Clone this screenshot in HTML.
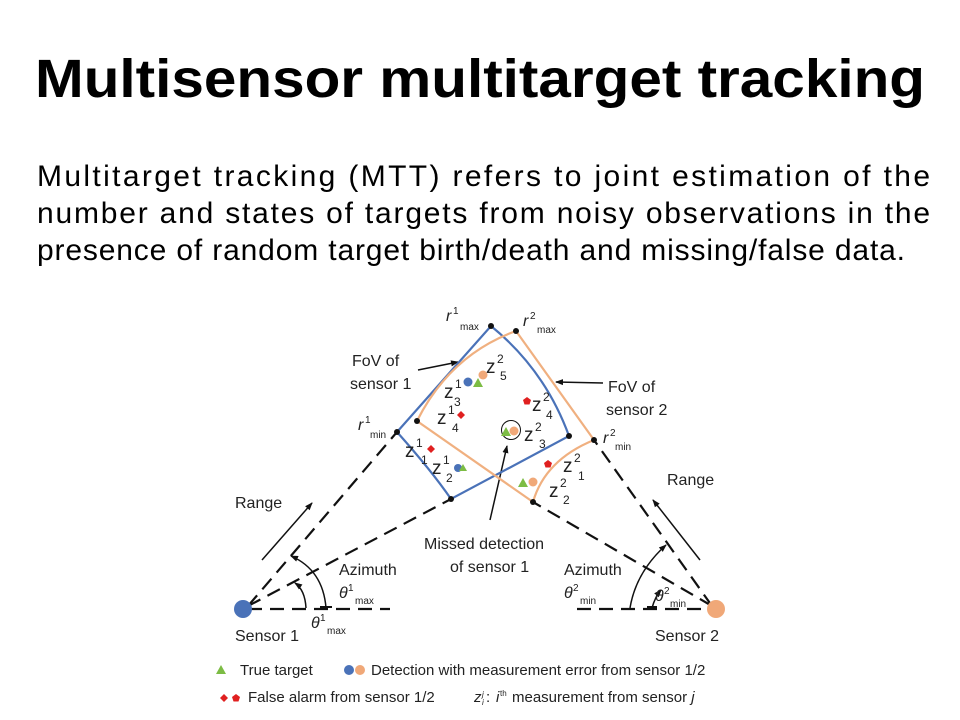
<!DOCTYPE html>
<html><head><meta charset="utf-8"><style>
body{margin:0;width:960px;height:720px;background:#fff;font-family:"Liberation Sans",sans-serif;overflow:hidden;position:relative}
svg{position:absolute;left:0;top:0}
svg text{font-family:"Liberation Sans",sans-serif;fill:#222}
</style></head><body>
<svg width="960" height="720" viewBox="0 0 960 720">
<text x="35" y="97" font-size="54" font-weight="bold" style="fill:#000" textLength="890" lengthAdjust="spacingAndGlyphs">Multisensor multitarget tracking</text>
<g font-size="30" style="fill:#000">
<text x="37" y="186" textLength="893" lengthAdjust="spacing" style="fill:#000">Multitarget tracking (MTT) refers to joint estimation of the</text>
<text x="37" y="223" textLength="893" lengthAdjust="spacing" style="fill:#000">number and states of targets from noisy observations in the</text>
<text x="37" y="260" textLength="868" lengthAdjust="spacing" style="fill:#000">presence of random target birth/death and missing/false data.</text>
</g>
<defs><marker id="ah" markerWidth="8" markerHeight="8" refX="7" refY="4" orient="auto" markerUnits="userSpaceOnUse"><path d="M0,1 L8,4 L0,7 z" fill="#111"/></marker></defs>
<g stroke="#111" stroke-width="2.2" stroke-dasharray="14,8" fill="none">
<line x1="248" y1="606" x2="397" y2="432"/>
<line x1="248" y1="606" x2="451" y2="499"/>
<line x1="248" y1="609" x2="390" y2="609"/>
<line x1="712" y1="606" x2="594" y2="440"/>
<line x1="712" y1="606" x2="533" y2="502"/>
<line x1="577" y1="609" x2="706" y2="609"/>
</g>
<g stroke="#111" stroke-width="1.5" fill="none">
<line x1="262" y1="560" x2="312" y2="503" marker-end="url(#ah)"/>
<line x1="700" y1="560" x2="653" y2="500" marker-end="url(#ah)"/>
<path d="M326,608 Q323,570 291,556" marker-end="url(#ah)"/>
<path d="M306,608 Q305,590 295,583" marker-end="url(#ah)"/>
<path d="M630,608 Q636,572 666,545" marker-end="url(#ah)"/>
<path d="M652,608 Q655,597 661,590" marker-end="url(#ah)"/>
<line x1="320" y1="607" x2="332" y2="607" stroke-width="2"/>
<line x1="647" y1="607" x2="657" y2="607" stroke-width="2"/>
<line x1="418" y1="370" x2="458" y2="362" marker-end="url(#ah)"/>
<line x1="603" y1="383" x2="556" y2="382" marker-end="url(#ah)"/>
<line x1="490" y1="520" x2="507" y2="446" marker-end="url(#ah)"/>
<circle cx="511" cy="430" r="9.5" stroke-width="1"/>
</g>
<g fill="none" stroke-width="2.2">
<path d="M397,432 L491,326 Q545,370 569,436 L451,499 Q431,470 397,432" stroke="#4a72b8"/>
<path d="M516,331 L594,440 Q545,460 533,502 L417,421 Q450,355 516,331" stroke="#f0b080"/>
</g>
<g fill="#111">
<circle cx="491" cy="326" r="3"/><circle cx="397" cy="432" r="3"/><circle cx="451" cy="499" r="3"/><circle cx="569" cy="436" r="3"/>
<circle cx="516" cy="331" r="3"/><circle cx="594" cy="440" r="3"/><circle cx="533" cy="502" r="3"/><circle cx="417" cy="421" r="3"/>
</g>
<circle cx="243" cy="609" r="9" fill="#4a72b8"/>
<circle cx="716" cy="609" r="9" fill="#f0a878"/>
<g fill="#4a72b8"><circle cx="468" cy="382" r="4.5"/><circle cx="458" cy="468" r="4"/></g>
<g fill="#f0a878"><circle cx="483" cy="375" r="4.5"/><circle cx="514" cy="431" r="4.5"/><circle cx="533" cy="482" r="4.5"/></g>
<g fill="#7cbc44"><path d="M478,378 l5,9 h-10z"/><path d="M463,464 l4,7 h-8z"/><path d="M506,427 l5,9 h-10z"/><path d="M523,478 l5,9 h-10z"/><path d="M221,665 l5,9 h-10z"/></g>
<g fill="#e02020"><path d="M461,411 l4,4 -4,4 -4,-4z"/><path d="M431,445 l4,4 -4,4 -4,-4z"/><path d="M527,397 l4,3 -1.5,4.5 h-5 l-1.5,-4.5z"/><path d="M548,460 l4,3 -1.5,4.5 h-5 l-1.5,-4.5z"/><path d="M224,694 l4,4 -4,4 -4,-4z"/><path d="M236,694 l4,3 -1.5,4.5 h-5 l-1.5,-4.5z"/></g>
<g fill="#4a72b8"><circle cx="349" cy="670" r="5"/></g><circle cx="360" cy="670" r="5" fill="#f0a878"/>
<g font-size="16">
<text x="446" y="321" font-style="italic">r</text><text x="453" y="314" font-size="10">1</text><text x="460" y="330" font-size="10">max</text>
<text x="523" y="326" font-style="italic">r</text><text x="530" y="319" font-size="10">2</text><text x="537" y="333" font-size="10">max</text>
<text x="358" y="430" font-style="italic">r</text><text x="365" y="423" font-size="10">1</text><text x="370" y="438" font-size="10">min</text>
<text x="603" y="443" font-style="italic">r</text><text x="610" y="436" font-size="10">2</text><text x="615" y="450" font-size="10">min</text>
<text x="352" y="366">FoV of</text><text x="350" y="389">sensor 1</text>
<text x="608" y="392">FoV of</text><text x="606" y="415">sensor 2</text>
<g font-size="19">
<text x="444" y="398">z</text><text x="455" y="388" font-size="12">1</text><text x="454" y="406" font-size="12">3</text>
<text x="486" y="373">z</text><text x="497" y="363" font-size="12">2</text><text x="500" y="380" font-size="12">5</text>
<text x="437" y="424">z</text><text x="448" y="414" font-size="12">1</text><text x="452" y="432" font-size="12">4</text>
<text x="532" y="411">z</text><text x="543" y="401" font-size="12">2</text><text x="546" y="419" font-size="12">4</text>
<text x="524" y="441">z</text><text x="535" y="431" font-size="12">2</text><text x="539" y="448" font-size="12">3</text>
<text x="405" y="457">z</text><text x="416" y="447" font-size="12">1</text><text x="421" y="464" font-size="12">1</text>
<text x="432" y="474">z</text><text x="443" y="464" font-size="12">1</text><text x="446" y="482" font-size="12">2</text>
<text x="563" y="472">z</text><text x="574" y="462" font-size="12">2</text><text x="578" y="480" font-size="12">1</text>
<text x="549" y="497">z</text><text x="560" y="487" font-size="12">2</text><text x="563" y="504" font-size="12">2</text>
</g>
<text x="235" y="508">Range</text><text x="667" y="485">Range</text>
<text x="424" y="549">Missed detection</text><text x="450" y="572">of sensor 1</text>
<text x="339" y="575">Azimuth</text>
<text x="339" y="598" font-style="italic">θ</text><text x="348" y="591" font-size="10">1</text><text x="355" y="604" font-size="10">max</text>
<text x="564" y="575">Azimuth</text>
<text x="564" y="598" font-style="italic">θ</text><text x="573" y="591" font-size="10">2</text><text x="580" y="604" font-size="10">min</text>
<text x="655" y="601" font-style="italic">θ</text><text x="664" y="594" font-size="10">2</text><text x="670" y="607" font-size="10">min</text>
<text x="311" y="628" font-style="italic">θ</text><text x="320" y="621" font-size="10">1</text><text x="327" y="634" font-size="10">max</text>
<text x="235" y="641">Sensor 1</text><text x="655" y="641">Sensor 2</text>
</g>
<g font-size="15">
<text x="240" y="675">True target</text>
<text x="371" y="675">Detection with measurement error from sensor 1/2</text>
<text x="248" y="702">False alarm from sensor 1/2</text>
<text x="474" y="702" font-style="italic">z</text><text x="482" y="697" font-size="8" font-style="italic">j</text><text x="482" y="705" font-size="8" font-style="italic">i</text><text x="486" y="702">: </text><text x="496" y="702" font-style="italic">i</text><text x="500" y="696" font-size="8">th</text><text x="512" y="702">measurement from sensor <tspan font-style="italic">j</tspan></text>
</g>
</svg>
</body></html>
